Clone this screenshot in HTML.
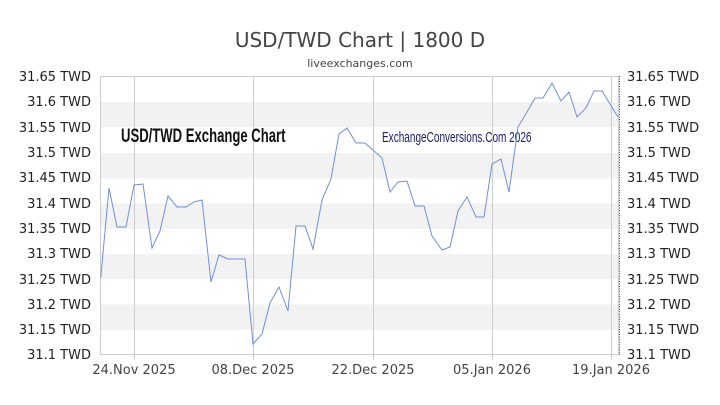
<!DOCTYPE html>
<html><head><style>body{margin:0;background:#fff}svg{display:block}</style></head><body>
<svg width="720" height="405" xmlns="http://www.w3.org/2000/svg" font-family="DejaVu Sans, Liberation Sans, sans-serif">
<rect width="720" height="405" fill="#fff"/>
<text x="360" y="47" text-anchor="middle" font-size="20" fill="#444">USD/TWD Chart | 1800 D</text>
<text x="360" y="67" text-anchor="middle" font-size="11" fill="#444">liveexchanges.com</text>
<g fill="#f2f2f2">
<rect x="100" y="102" width="519" height="25.3"/>
<rect x="100" y="153" width="519" height="25.3"/>
<rect x="100" y="203.5" width="519" height="25.3"/>
<rect x="100" y="254" width="519" height="25.3"/>
<rect x="100" y="304.5" width="519" height="25.3"/>
</g>
<rect x="100.5" y="76.5" width="518" height="278" fill="none" stroke="#ccc"/>
<g stroke="#ccc">
<line x1="134.5" y1="77" x2="134.5" y2="360"/>
<line x1="253.5" y1="77" x2="253.5" y2="360"/>
<line x1="373.5" y1="77" x2="373.5" y2="360"/>
<line x1="492.5" y1="77" x2="492.5" y2="360"/>
<line x1="611.5" y1="77" x2="611.5" y2="360"/>
</g>
<line x1="619.5" y1="76" x2="619.5" y2="355" stroke="#444" stroke-dasharray="1,1.53"/>
<line x1="621.5" y1="76" x2="621.5" y2="355" stroke="#fff"/>
<text x="121" y="142" font-family="Liberation Sans Narrow, Liberation Sans, sans-serif" font-weight="bold" font-size="19" fill="#111" transform="translate(121 0) scale(0.69 1) translate(-121 0)">USD/TWD Exchange Chart</text>
<text x="382" y="142" font-family="Liberation Sans Narrow, Liberation Sans, sans-serif" font-size="15" fill="#1a1a6e" transform="translate(382 0) scale(0.67 1) translate(-382 0)">ExchangeConversions.Com 2026</text>
<polyline fill="none" stroke="#7090d8" stroke-width="1" points="100.7,278 109,188 117,227 126,227 134,185 143,184 152,248 160,231 168,196 177,207 186,207 194,202 202,200 211,282 219,255 228,259 245,259 253,344 262,334 270,303 279,287 288,311 296,226 305,226 313,249 322,200 331,179 339,134 347,128 356,143 365,143 382,158 390,192 398,182 407,181 415,206 424,206 432,236 442,250 450,247 458,211 467,197 476,217 484,217 492,164 501,159 509,192 518,127 527,112 535,98 543,98 552,83 561,101 569,92 577,117 586,108 594,91 602,91 618,117"/>
<g font-size="13" fill="#222" text-anchor="end">
<text x="91" y="81">31.65 TWD</text><text x="91" y="106">31.6 TWD</text><text x="91" y="132">31.55 TWD</text><text x="91" y="157">31.5 TWD</text><text x="91" y="182">31.45 TWD</text><text x="91" y="208">31.4 TWD</text><text x="91" y="233">31.35 TWD</text><text x="91" y="258">31.3 TWD</text><text x="91" y="284">31.25 TWD</text><text x="91" y="309">31.2 TWD</text><text x="91" y="334">31.15 TWD</text><text x="91" y="359">31.1 TWD</text>
</g>
<g font-size="13" fill="#222">
<text x="627" y="81">31.65 TWD</text><text x="627" y="106">31.6 TWD</text><text x="627" y="132">31.55 TWD</text><text x="627" y="157">31.5 TWD</text><text x="627" y="182">31.45 TWD</text><text x="627" y="208">31.4 TWD</text><text x="627" y="233">31.35 TWD</text><text x="627" y="258">31.3 TWD</text><text x="627" y="284">31.25 TWD</text><text x="627" y="309">31.2 TWD</text><text x="627" y="334">31.15 TWD</text><text x="627" y="359">31.1 TWD</text>
</g>
<g font-size="13" fill="#444" text-anchor="middle">
<text x="134" y="374">24.Nov 2025</text><text x="253" y="374">08.Dec 2025</text><text x="373" y="374">22.Dec 2025</text><text x="492" y="374">05.Jan 2026</text><text x="611" y="374">19.Jan 2026</text>
</g>
</svg>
</body></html>
